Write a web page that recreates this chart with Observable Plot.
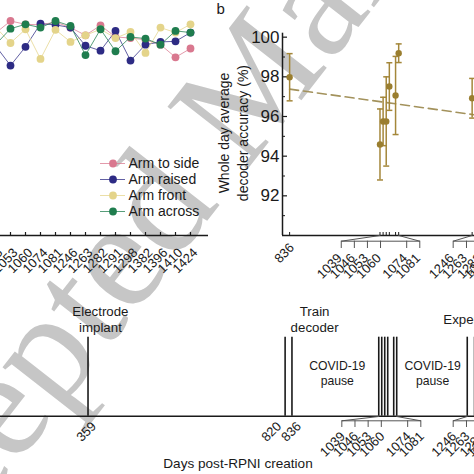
<!DOCTYPE html>
<html>
<head>
<meta charset="utf-8">
<script src="https://cdn.jsdelivr.net/npm/d3@7"></script>
<script src="https://cdn.jsdelivr.net/npm/@observablehq/plot@0.6"></script>
<style>
  html, body { margin: 0; padding: 0; background: #fff; }
  #fig { position: relative; width: 474px; height: 474px; overflow: hidden; background: #fff; }
</style>
</head>
<body>
<div id="fig"></div>
<script>
// ---------- data ----------
// Experiment sessions (days post-RPNI creation)
const sessionDays = [836, 1039, 1046, 1053, 1060, 1074, 1081, 1246, 1263, 1282, 1291, 1298, 1382, 1396, 1410, 1424];

// Panel a: decoder accuracy (%) per arm posture, sessions 1046..1424
const postureNames = ["Arm to side", "Arm raised", "Arm front", "Arm across"];
const postureColors = ["#d9788f", "#2d2b84", "#e4d48a", "#1f7d4e"];
const postureDays = [1046, 1053, 1060, 1074, 1081, 1246, 1263, 1282, 1291, 1298, 1382, 1396, 1410, 1424];
const armToSide = [96.8, 99.0, 98.4, 98.3, 98.8, 97.8, 96.4, 98.2, 96.1, 95.9, 95.6, 94.7, 92.4, 94.0];
const armRaised = [94.5, 90.9, 94.3, 98.5, 98.3, 97.8, 94.5, 93.6, 97.2, 91.8, 94.7, 95.2, 95.3, 96.9];
const armFront  = [97.9, 95.0, 97.5, 92.1, 97.4, 95.2, 96.4, 97.5, 95.9, 97.0, 93.2, 97.8, 96.9, 98.4];
const armAcross = [94.7, 97.6, 98.4, 97.8, 99.0, 98.1, 92.8, 97.5, 93.5, 96.1, 95.8, 94.7, 97.2, 96.9];

// Panel b: whole-day average decoder accuracy (mean ± SD)
const wholeDays = [836, 1039, 1046, 1053, 1060, 1074, 1081, 1246];
const wholeMean = [97.98, 94.59, 95.75, 95.75, 97.51, 97.06, 99.19, 96.92];
const wholeSD   = [1.19, 1.79, 1.22, 2.25, 1.20, 1.97, 0.47, 1.00];
// Linear fit over all sessions
const fitDays = [836, 1424];
const fitAcc  = [97.38, 95.55];
const accTicks = [92, 94, 96, 98, 100];
const accMinor = [91, 93, 95, 97, 99];

// Timeline events
const eventDays = [359, 820, 836, 1039, 1046, 1053, 1060, 1074, 1081, 1246, 1263, 1282, 1291, 1298, 1382, 1396, 1410, 1424];
const timelineMajor = [359, 820, 836];
const timelineNudge = [0, -12, 1];
const noteText = ["Electrode\nimplant", "Train\ndecoder", "COVID-19\npause", "COVID-19\npause"];
const noteDays = [388, 889, 942, 1165];
const noteLevel = [97.7, 97.7, 43.7, 43.7];
const noteSize = [13.3, 13.3, 12.2, 12.2];
const sessionNote = "Experiments";
const sessionNoteDay = 1190;
const sessionNoteLevel = 96.7;

// Session bursts shown spread out under the day axis
const burstEarly = [1039, 1046, 1053, 1060, 1074, 1081];
const burstLate = [1246, 1263, 1282, 1291, 1298, 1382, 1396, 1410, 1424];

// ---------- helpers ----------
const fig = document.getElementById("fig");
const FONT = "'Liberation Sans', Arial, sans-serif";
const INK = "#1a1a1a";
const GOLD = "#a4873a";

function place(svg, left, top, w, h) {
  Object.assign(svg.style, {
    position: "absolute", left: left + "px", top: top + "px",
    width: w + "px", height: h + "px", maxWidth: "none",
    background: "transparent", overflow: "visible", color: INK, fontFamily: FONT
  });
  fig.appendChild(svg);
}

// horizontal cap for error bars
const capSymbol = {draw(ctx, size) { const w = Math.sqrt(size / Math.PI); ctx.moveTo(-w, 0); ctx.lineTo(w, 0); }};

// Axis strip under a day axis: tick labels plus the spread-out session bursts
function dayStrip({left, top, width, height, marginLeft, marginRight, domain, majors, nudges, majorY, majorDx, bursts, brY, tickY, labY, labDx, extra = []}) {
  const marks = majors.map((d, i) =>
    Plot.text([d], {x: v => v, y: majorY, text: v => String(v), rotate: -45, textAnchor: "end", lineAnchor: "middle",
      dx: majorDx + (nudges ? nudges[i] : 0), fontSize: 13}));
  for (const b of bursts) {
    const d0 = b.days[0], d1 = b.days[b.days.length - 1];
    const spread = d => b.lo + (d - d0) / (d1 - d0) * (b.hi - b.lo);
    marks.push(Plot.line([[d0, 0], [b.lo, brY], [b.hi, brY], [d1, 0]], {x: d => d[0], y: d => d[1], stroke: "#555", strokeWidth: 1}));
    marks.push(Plot.ruleX(b.days, {x: spread, y1: brY, y2: tickY, stroke: "#555", strokeWidth: 1}));
    marks.push(Plot.text(b.days, {x: spread, y: labY, text: d => String(d), rotate: -45, textAnchor: "end",
      lineAnchor: "middle", dx: labDx, fontSize: 13}));
  }
  const svg = Plot.plot({
    width, height, marginLeft, marginRight, marginTop: 0, marginBottom: 0,
    x: {domain, axis: null},
    y: {domain: [0, height], range: [0, height], axis: null},
    marks: [...marks, ...extra]
  });
  place(svg, left, top, width, height);
}

// ---------- watermark ----------
{
  const svg = Plot.plot({
    width: 474, height: 474, margin: 0,
    marks: [
      Plot.text(["Accepted Manuscript"], {text: d => d, frameAnchor: "top-left", dx: -140, dy: 664,
        rotate: -52, textAnchor: "start", lineAnchor: "bottom", fontSize: 155,
        fontFamily: "'Liberation Serif', 'DejaVu Serif', serif", fill: "#c6c6c6"})
    ]
  });
  place(svg, 0, 0, 474, 474);
}

// ---------- panel a ----------
{
  const series = [armToSide, armRaised, armFront, armAcross];
  const rows = postureNames.flatMap((name, i) => postureDays.map((day, j) => ({name, day, acc: series[i][j]})));
  const color = {domain: postureNames, range: postureColors};
  const W = 300, H = 280;
  const svg = Plot.plot({
    width: W, height: H, marginLeft: 17, marginRight: 22, marginTop: 15, marginBottom: 45,
    x: {type: "point", domain: sessionDays, padding: 1, axis: null},
    y: {domain: [60, 100], axis: null},
    color,
    marks: [
      Plot.ruleY([60], {stroke: INK, strokeWidth: 1.5}),
      Plot.tickX(sessionDays, {x: d => d, insetTop: 217, stroke: INK, strokeWidth: 1.2}),
      Plot.text(sessionDays, {x: d => d, text: d => String(d), frameAnchor: "bottom", rotate: -45,
        textAnchor: "end", lineAnchor: "middle", dx: 5, dy: 15, fontSize: 13}),
      ...postureNames.flatMap(name => {
        const r = rows.filter(d => d.name === name);
        return [
          Plot.line(r, {x: "day", y: "acc", stroke: "name", strokeWidth: 1, strokeOpacity: 0.75}),
          Plot.dot(r, {x: "day", y: "acc", fill: "name", r: 3.9})
        ];
      })
    ]
  });
  place(svg, -70, 0, W, H);

  // legend
  const leg = Plot.plot({
    width: 110, height: 75, marginLeft: 5, marginRight: 80, marginTop: 11.7, marginBottom: 13,
    x: {domain: [0, 1], axis: null},
    y: {type: "point", domain: postureNames, padding: 0, axis: null},
    color,
    marks: [
      Plot.ruleY(postureNames, {y: d => d, x1: 0, x2: 1, stroke: d => d, strokeWidth: 1, strokeOpacity: 0.75}),
      Plot.dot(postureNames, {x: 0.5, y: d => d, fill: d => d, r: 3.9}),
      Plot.text(postureNames, {x: 1, y: d => d, text: d => d, dx: 3, textAnchor: "start", fontSize: 14})
    ]
  });
  place(leg, 95, 150, 110, 75);
}

// ---------- panel b ----------
{
  const rows = wholeDays.map((day, i) => ({day, mean: wholeMean[i], sd: wholeSD[i]}));
  const caps = rows.flatMap(r => [{day: r.day, y: r.mean + r.sd}, {day: r.day, y: r.mean - r.sd}]);
  const fit = fitDays.map((day, i) => ({day, acc: fitAcc[i]}));
  const W = 378, H = 236;
  const svg = Plot.plot({
    width: W, height: H, marginLeft: 82, marginRight: 20, marginTop: 32.7, marginBottom: 1,
    x: {domain: [820, 1440], axis: null},
    y: {domain: [90, 100.2], axis: null},
    marks: [
      Plot.ruleX([820], {stroke: INK, strokeWidth: 1.5}),
      Plot.ruleY([90], {stroke: INK, strokeWidth: 1.5}),
      Plot.tickY(accTicks, {y: d => d, insetRight: 271, stroke: INK, strokeWidth: 1.2}),
      Plot.tickY(accMinor, {y: d => d, insetRight: 273, stroke: INK, strokeWidth: 1}),
      Plot.text(accTicks, {y: d => d, text: d => String(d), frameAnchor: "left", textAnchor: "end", dx: -3, fontSize: 17}),
      Plot.tickX(sessionDays, {x: d => d, insetTop: 199.3, stroke: INK, strokeWidth: 1}),
      Plot.line(fit, {x: "day", y: "acc", stroke: "#a3925c", strokeWidth: 1.6, strokeDasharray: "9,5"}),
      Plot.ruleX(rows, {x: "day", y1: d => d.mean - d.sd, y2: d => d.mean + d.sd, stroke: GOLD, strokeWidth: 1.5}),
      Plot.dot(caps, {x: "day", y: "y", symbol: capSymbol, r: 3, stroke: GOLD, strokeWidth: 1.5, fill: "none"}),
      Plot.dot(rows, {x: "day", y: "mean", r: 3.2, fill: "#9a7e2f"}),
      Plot.text(["Whole day average\ndecoder accuracy (%)"], {text: d => d, frameAnchor: "left", rotate: -90,
        textAnchor: "middle", lineAnchor: "middle", dx: -50.5, dy: -1.3, fontSize: 14, lineHeight: 1.36}),
      Plot.text(["b"], {text: d => d, frameAnchor: "top-left", textAnchor: "start", lineAnchor: "middle",
        dx: -66, dy: -23.7, fontSize: 15})
    ]
  });
  place(svg, 200, 0, W, H);

  dayStrip({
    left: 200, top: 235, width: W, height: 45, marginLeft: 82, marginRight: 20, domain: [820, 1440],
    majors: [836], majorY: 10, majorDx: 2.4,
    bursts: [{days: burstEarly, lo: 952, hi: 1128.4}, {days: burstLate, lo: 1203.4, hi: 1516.7}],
    brY: 5.7, tickY: 13, labY: 20.5, labDx: -1.5
  });
}

// ---------- timeline ----------
{
  const W = 660, H = 126.7;
  const svg = Plot.plot({
    width: W, height: H, marginLeft: 14, marginRight: 26, marginTop: 46.7, marginBottom: 1,
    x: {domain: [0, 1450], axis: null},
    y: {domain: [0, 79], axis: null},
    marks: [
      Plot.ruleY([0], {stroke: INK, strokeWidth: 1.6}),
      Plot.ruleX(eventDays, {x: d => d, y1: 0, y2: 79, stroke: INK, strokeWidth: 1.6}),
      Plot.text(noteText, {x: (d, i) => noteDays[i], y: (d, i) => noteLevel[i], text: d => d,
        textAnchor: "middle", lineAnchor: "middle", fontSize: (d, i) => noteSize[i], lineHeight: 1.22}),
      Plot.text([sessionNote], {x: sessionNoteDay, y: sessionNoteLevel, text: d => d,
        textAnchor: "start", lineAnchor: "middle", fontSize: 13.3})
    ]
  });
  place(svg, -80, 290, W, H);

  dayStrip({
    left: -80, top: 415.7, width: W, height: 58.3, marginLeft: 14, marginRight: 26, domain: [0, 1450],
    majors: timelineMajor, nudges: timelineNudge, majorY: 7.6, majorDx: 6,
    bursts: [{days: burstEarly, lo: 952.6, hi: 1137.4}, {days: burstLate, lo: 1213.1, hi: 1538.8}],
    brY: 4.3, tickY: 11, labY: 17.6, labDx: 1,
    extra: [Plot.text(["Days post-RPNI creation"], {text: d => d, frameAnchor: "top", lineAnchor: "middle",
      dy: 47.3, dx: -6.5, fontSize: 13.6})]
  });
}
</script>
</body>
</html>
